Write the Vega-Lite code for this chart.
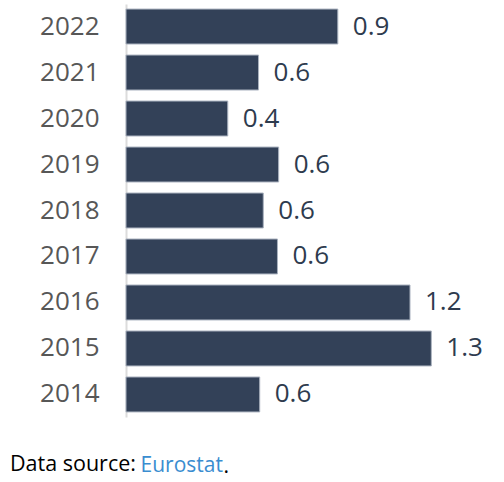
{
  "$schema": "https://vega.github.io/schema/vega-lite/v6.json",
  "width": 355,
  "height": 413,
  "autosize": {"type": "none"},
  "padding": {"left": 126, "top": 4, "right": 23, "bottom": 65},
  "config": {"view": {"stroke": null}, "font": "Open Sans"},
  "title": {
    "text": "Data source:",
    "orient": "bottom",
    "anchor": "start",
    "frame": "group",
    "dx": -116,
    "dy": -25,
    "offset": 20,
    "baseline": "alphabetic",
    "fontSize": 21.5,
    "fontWeight": "normal",
    "color": "#000000"
  },
  "data": {
    "values": [
      {"year": "2022", "value": 0.895},
      {"year": "2021", "value": 0.56},
      {"year": "2020", "value": 0.43},
      {"year": "2019", "value": 0.645},
      {"year": "2018", "value": 0.58},
      {"year": "2017", "value": 0.64},
      {"year": "2016", "value": 1.2},
      {"year": "2015", "value": 1.29},
      {"year": "2014", "value": 0.565}
    ]
  },
  "encoding": {
    "y": {
      "field": "year",
      "type": "nominal",
      "sort": "descending",
      "scale": {"paddingInner": 0.24, "paddingOuter": 0.11},
      "axis": {
        "title": ".",
        "titleAngle": 0,
        "titleX": 97,
        "titleY": 468,
        "titleAlign": "left",
        "titleBaseline": "alphabetic",
        "titleFontSize": 21,
        "titleFontWeight": "normal",
        "titleColor": "#000000",
        "labelFontSize": 26,
        "labelColor": "#575757",
        "labelPadding": 27,
        "ticks": false,
        "tickSize": 0,
        "domainColor": "#dcdcdc",
        "domainWidth": 2
      }
    },
    "x": {
      "field": "value",
      "type": "quantitative",
      "scale": {"domain": [0, 1.5]},
      "axis": {
        "grid": false,
        "labels": false,
        "ticks": false,
        "domain": false,
        "title": "Eurostat",
        "titleX": 14,
        "titleY": 54,
        "titleAlign": "left",
        "titleAnchor": "start",
        "titleBaseline": "alphabetic",
        "titleFontSize": 21,
        "titleFontWeight": "normal",
        "titleColor": "#3a8dd0"
      }
    }
  },
  "layer": [
    {"mark": {"type": "bar", "color": "#334158", "stroke": "#aab2bf", "strokeWidth": 1}},
    {
      "mark": {"type": "text", "align": "left", "baseline": "middle", "dx": 15, "fontSize": 26, "color": "#2e3b4e"},
      "encoding": {"text": {"field": "value", "type": "quantitative", "format": ".1f"}}
    }
  ]
}
